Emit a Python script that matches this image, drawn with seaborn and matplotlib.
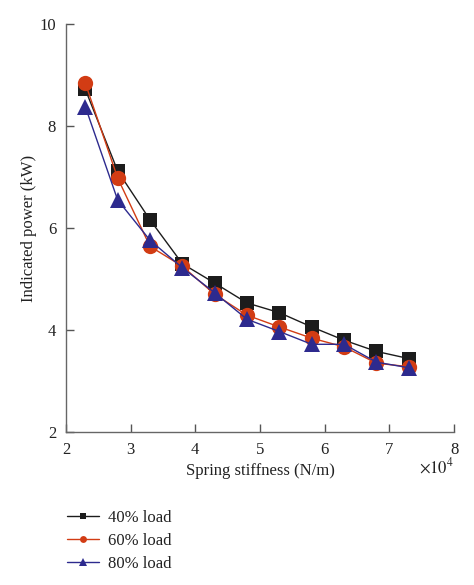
import pandas as pd
import matplotlib.pyplot as plt
import seaborn as sns

# spring stiffness (x10^4 N/m) and indicated power (kW)
stiffness = [2.3, 2.8, 3.3, 3.8, 4.3, 4.8, 5.3, 5.8, 6.3, 6.8, 7.3]
load_40 = [8.72, 7.12, 6.16, 5.30, 4.92, 4.53, 4.34, 4.06, 3.80, 3.58, 3.44]
load_60 = [8.84, 6.98, 5.64, 5.25, 4.70, 4.29, 4.06, 3.84, 3.67, 3.35, 3.28]
load_80 = [8.38, 6.55, 5.76, 5.22, 4.73, 4.21, 3.97, 3.72, 3.72, 3.37, 3.26]
labels = ['40% load', '60% load', '80% load']

df = pd.concat([
    pd.DataFrame({'x': stiffness, 'y': vals, 'Load': lab})
    for vals, lab in zip([load_40, load_60, load_80], labels)
])

sns.set_style("white")
plt.rcParams['font.family'] = ['Liberation Serif', 'DejaVu Serif']

fig = plt.figure(figsize=(4.74, 5.85), dpi=100)
ax = fig.add_axes([0.139, 0.2615, 0.819, 0.6975])

palette = {'40% load': '#1c1c1c', '60% load': '#d23c14', '80% load': '#2d2a8e'}
markers = {'40% load': 's', '60% load': 'o', '80% load': '^'}
sizes = {'40% load': 10.5, '60% load': 11, '80% load': 11.5}

for lab in labels:
    sub = df[df['Load'] == lab]
    sns.lineplot(data=sub, x='x', y='y', ax=ax, color=palette[lab], marker=markers[lab],
                 markersize=sizes[lab], markeredgewidth=0, linewidth=1.0, label=lab)

ax.set_xlim(2, 8)
ax.set_ylim(2, 10)
ax.set_xticks([2, 3, 4, 5, 6, 7, 8])
ax.set_yticks([2, 4, 6, 8, 10])
ax.set_xlabel('Spring stiffness (N/m)', fontsize=12, color='#222222', labelpad=4)
ax.set_ylabel('Indicated power (kW)', fontsize=12, color='#222222', labelpad=2)
ax.tick_params(direction='in', length=6, width=1, colors='#555555', labelcolor='#222222',
               labelsize=12, bottom=True, left=True, pad=7)
sns.despine(ax=ax)
for s in ['left', 'bottom']:
    ax.spines[s].set_color('#666666')
    ax.spines[s].set_linewidth(1.0)

ax.text(1.0, -0.062, r'$\times10^4$', transform=ax.transAxes, ha='right', va='top',
        fontsize=12, color='#222222', math_fontfamily='stix')

leg = ax.legend(loc='upper left', bbox_to_anchor=(-0.035, -0.155), frameon=False,
                fontsize=12, markerscale=0.45, handlelength=1.9, labelspacing=0.42,
                handletextpad=0.55)
for t in leg.get_texts():
    t.set_color('#222222')

plt.savefig('out.png', dpi=100)
